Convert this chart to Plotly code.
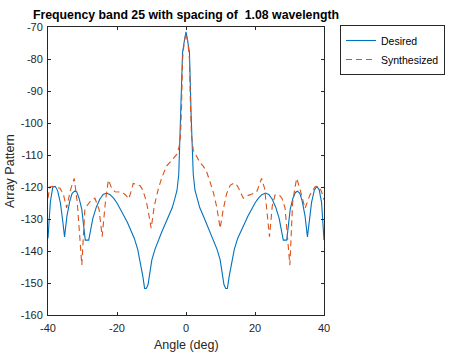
import plotly.graph_objects as go

# ---- data ----
desired_angle = [
    -40, -39.3, -38.6, -37.9, -37.2, -36.4, -35.8, -35.2, -34.5, -33.7, -33, -32.3, -31.7, -31, -30.2, -29.6,
    -29.2, -28.2, -27.8, -27, -26, -25, -24, -23, -22, -21, -20, -19, -18, -17, -16, -15, -14, -13.2,
    -12.5, -12, -11.5, -11, -10.5, -9.9, -9, -8, -7, -6, -5, -4, -3.2, -2.6, -2.1, -1.8, -1.5, -1, -0.5,
    0,
    0.5, 1, 1.5, 1.8, 2.1, 2.6, 3.2, 4, 5, 6, 7, 8, 9, 9.9, 10.5, 11, 11.5, 12, 12.5, 13.2, 14, 15, 16,
    17, 18, 19, 20, 21, 22, 23, 24, 25, 26, 27, 27.8, 28.2, 29.2, 29.6, 30.2, 31, 31.7, 32.3, 33, 33.7,
    34.5, 35.2, 35.8, 36.4, 37.2, 37.9, 38.6, 39.3, 40,
]
desired_db = [
    -136.0, -124.5, -120.0, -119.8, -121.2, -125.0, -130.0, -135.6, -129.0, -124.5, -122.0, -121.3, -121.5, -123.5, -127.0, -132.0,
    -136.6, -136.6, -134.0, -129.8, -126.3, -123.8, -122.3, -121.9, -122.4, -123.5, -125.0, -127.0, -129.0, -131.0, -133.5, -136.0, -139.5, -143.8,
    -148.0, -151.7, -151.7, -150.5, -146.5, -142.8, -139.5, -136.5, -134.0, -131.5, -129.0, -126.5, -123.5, -121.0, -116.0, -106.0, -98.0, -78.0, -74.5,
    -71.5,
    -74.5, -78.0, -98.0, -106.0, -116.0, -121.0, -123.5, -126.5, -129.0, -131.5, -134.0, -136.5, -139.5, -142.8, -146.5, -150.5, -151.7, -151.7, -148.0, -143.8, -139.5, -136.0, -133.5,
    -131.0, -129.0, -127.0, -125.0, -123.5, -122.4, -121.9, -122.3, -123.8, -126.3, -129.8, -134.0, -136.6, -136.6, -132.0, -127.0, -123.5, -121.7, -121.3, -122.0, -124.5,
    -129.0, -135.6, -130.0, -124.8, -121.0, -119.8, -120.8, -124.9, -136.6,
]

synth_angle = [
    -40, -39.5, -38.5, -37.5, -36.5, -35.5, -34.6, -33.5, -32.4, -31.5, -30.2, -29.3, -27.8, -26.4, -25.2, -24.3,
    -23.3, -22.5, -21.5, -20.6, -19.6, -18.6, -17.5, -16.6, -15.8, -15.3, -14.3, -13.3, -12.5, -11.5, -10.8, -10.1,
    -9.2, -8, -7, -5.6, -4, -2.7, -2, -1.6, -1.3, -1, -0.5,
    0,
    0.5, 1, 1.3, 1.6, 2.1, 3, 4, 5, 6, 7, 8, 8.9, 9.9, 10.8, 11.8, 12.8, 13.7, 14.5, 15.3, 16.6, 17.5, 19,
    20.5, 21.9, 22.8, 24.2, 25, 25.8, 27, 27.8, 28.7, 30.1, 30.9, 31.6, 32.1, 33, 34.5, 35.9, 37.4, 38.5, 39.3, 40,
]
synth_db = [
    -123.5, -120.0, -119.8, -120.2, -120.4, -122.5, -126.5, -121.0, -117.3, -125.0, -144.4, -126.7, -124.6, -123.5, -127.0, -135.5,
    -124.0, -117.8, -120.5, -121.5, -121.5, -121.6, -122.5, -123.7, -121.0, -118.9, -119.2, -119.6, -121.0, -124.5, -128.5, -132.9,
    -126.0, -120.5, -117.0, -113.4, -111.5, -109.8, -107.5, -104.0, -95.0, -80.0, -74.5,
    -72.0,
    -74.5, -80.0, -95.0, -104.0, -108.5, -110.5, -112.3, -113.5, -115.3, -118.5, -122.0, -126.2, -132.9, -127.0, -122.0, -119.5, -118.9, -119.0, -120.5, -123.5, -122.8, -122.3,
    -121.5, -117.3, -120.5, -135.5, -126.0, -122.5, -122.5, -123.5, -126.5, -144.4, -125.0, -120.0, -117.3, -120.5, -126.7, -122.5, -119.9, -119.8, -121.5, -124.0,
]

x_ticks = [-40, -20, 0, 20, 40]
x_tick_labels = ["-40", "-20", "0", "20", "40"]
y_ticks = [-160, -150, -140, -130, -120, -110, -100, -90, -80, -70]
y_tick_labels = ["-160", "-150", "-140", "-130", "-120", "-110", "-100", "-90", "-80", "-70"]

title_text = "Frequency band 25 with spacing of  1.08 wavelength"
x_label = "Angle (deg)"
y_label = "Array Pattern"

# ---- figure ----
FONT = "Liberation Sans, Arial, sans-serif"
AX = "#262626"
W, H = 474, 355
L, R, T, B = 48, 150, 27, 40
PW, PH = W - L - R, H - T - B

fig = go.Figure()
fig.add_trace(go.Scatter(x=desired_angle, y=desired_db, mode="lines", name="Desired",
                         line=dict(color="#0072BD", width=1.1)))
fig.add_trace(go.Scatter(x=synth_angle, y=synth_db, mode="lines", name="Synthesized",
                         line=dict(color="#D95319", width=1.1, dash="6px,4px")))

axis_common = dict(showline=True, linecolor=AX, linewidth=1, mirror="ticks",
                   ticks="inside", ticklen=3, tickcolor=AX, tickwidth=1,
                   showgrid=False, zeroline=False, automargin=False,
                   tickfont=dict(family=FONT, size=11, color=AX))

fig.update_layout(
    width=W, height=H,
    margin=dict(l=L, r=R, t=T, b=B, autoexpand=False),
    paper_bgcolor="white", plot_bgcolor="white",
    title=dict(text="<b>" + title_text.replace("  ", "&nbsp; ") + "</b>",
               font=dict(family=FONT, size=12.3, color="black"),
               x=0.5, xref="paper", xanchor="center",
               y=1 - 15 / H, yref="container", yanchor="middle"),
    xaxis=dict(range=[-40, 40], tickvals=x_ticks, ticktext=x_tick_labels,
               ticklabelstandoff=3, **axis_common),
    yaxis=dict(range=[-160, -70], tickvals=y_ticks, ticktext=y_tick_labels,
               ticklabelstandoff=2, **axis_common),
    legend=dict(x=(340 - L) / PW, y=1 + 2 / PH, xanchor="left", yanchor="top",
                bordercolor=AX, borderwidth=1, bgcolor="white",
                font=dict(family=FONT, size=10.5, color="black"),
                tracegroupgap=0),
    showlegend=True,
    annotations=[
        dict(text=x_label, xref="paper", yref="paper", x=0.5, y=-(345 - T - PH) / PH,
             xanchor="center", yanchor="middle", showarrow=False,
             font=dict(family=FONT, size=12.5, color=AX)),
        dict(text=y_label, xref="paper", yref="paper", x=-(L - 10) / PW, y=0.5,
             xanchor="center", yanchor="middle", showarrow=False, textangle=-90,
             font=dict(family=FONT, size=12.5, color=AX)),
    ],
)

fig.write_html("out.html", config={"displayModeBar": False},
               post_script="document.body.style.margin='0';document.body.style.overflow='hidden';")
